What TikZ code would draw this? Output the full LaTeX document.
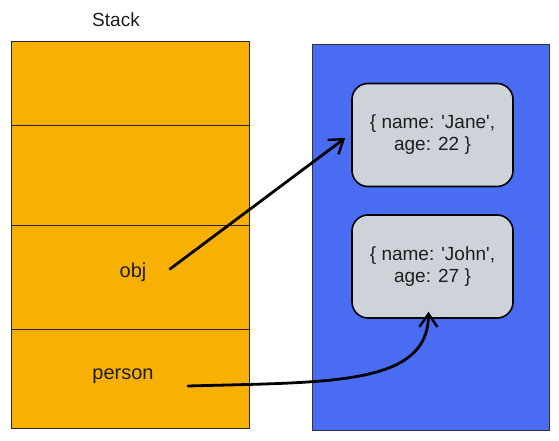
\documentclass[tikz,border=0pt]{standalone}
\usepackage{fontspec}
\setmainfont{Liberation Sans}
\usetikzlibrary{arrows.meta}
\definecolor{stackorange}{HTML}{F9B005}
\definecolor{heapblue}{HTML}{4A6CF2}
\definecolor{objgray}{HTML}{CED3D9}
\definecolor{txt}{HTML}{1E1E1E}
\newcommand{\sq}{\textquotesingle}
\tikzset{
  cell/.style={draw=black!85, line width=1.1pt, fill=stackorange, minimum width=238pt, inner sep=0pt, anchor=north west},
  heap/.style={draw=black!80, line width=1.1pt, fill=heapblue, minimum width=237pt, minimum height=386pt, inner sep=0pt, anchor=north west},
  objbox/.style={draw=black, line width=1.6pt, fill=objgray, rounded corners=16pt, minimum width=161pt, minimum height=103pt, align=center, font=\fontsize{19}{22}\selectfont, text=txt},
  lbl/.style={font=\fontsize{20}{24}\selectfont, text=txt},
  ptr/.style={line width=2.8pt, draw=black, line cap=round, -{Straight Barb[length=13pt, width=18pt, line width=2.4pt]}}
}
\begin{document}
\begin{tikzpicture}[x=1pt,y=-1pt]
\useasboundingbox (0,0) rectangle (559,441);
\node[lbl, font=\fontsize{19}{23}\selectfont] (title) at (116,20) {Stack};
\node[cell, minimum height=84pt] (c1) at (11,41) {};
\node[cell, minimum height=100pt] (c2) at (11,125) {};
\node[cell, minimum height=104pt] (c3) at (11,225) {};
\node[cell, minimum height=99pt] (c4) at (11,329) {};
\node[lbl] (obj) at (133,272) {obj};
\node[lbl] (person) at (123,376) {person};
\node[heap] (heapbox) at (312,44) {};
\node[objbox] (jane) at (432.5,135) {\{ name: \sq Jane\sq,\\ age: 22 \}};
\node[objbox] (john) at (432.5,266.5) {\{ name: \sq John\sq,\\ age: 27 \}};
\coordinate (objptr) at (170,269);
\coordinate (personptr) at (188,386);
\draw[ptr] (objptr) -- ([xshift=-6pt,yshift=-3pt]jane.west);
\draw[ptr] (personptr) .. controls (330,382) and (428,386) .. ([xshift=-4pt,yshift=7pt]john.south);
\end{tikzpicture}
\end{document}
